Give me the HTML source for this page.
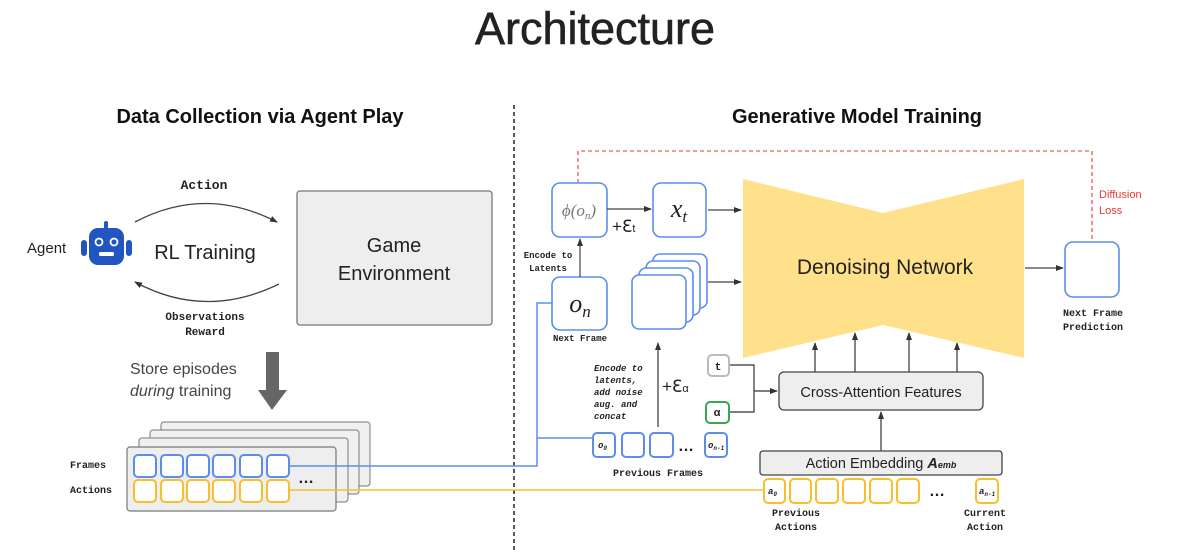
<!DOCTYPE html>
<html><head><meta charset="utf-8"><style>
html,body{margin:0;padding:0;background:#fff}
svg{display:block}
.s{font-family:"Liberation Sans",sans-serif}
.m{font-family:"Liberation Mono",monospace;font-weight:bold}
</style></head><body>
<svg width="1200" height="553" viewBox="0 0 1200 553" xmlns="http://www.w3.org/2000/svg">
<defs>
<marker id="ar" markerWidth="8" markerHeight="8" refX="7" refY="4" orient="auto" markerUnits="userSpaceOnUse"><path d="M0,1 L8,4 L0,7 z" fill="#333"/></marker>
</defs>
<text x="595" y="44" text-anchor="middle" class="s" font-size="45" fill="#222" stroke="#222" stroke-width="0.6">Architecture</text>
<line x1="514" y1="105" x2="514" y2="553" stroke="#222" stroke-width="1.5" stroke-dasharray="4,3"/>
<text x="260" y="123" text-anchor="middle" class="s" font-size="20" font-weight="bold" fill="#111">Data Collection via Agent Play</text>
<text x="857" y="123" text-anchor="middle" class="s" font-size="20" font-weight="bold" fill="#111">Generative Model Training</text>

<!-- Left -->
<text x="27" y="253" class="s" font-size="15" fill="#222">Agent</text>
<rect x="104" y="221" width="4" height="8" rx="2" fill="#2156c2"/>
<rect x="89" y="228" width="35" height="37" rx="9" fill="#2156c2"/>
<rect x="81" y="240" width="6" height="16" rx="3" fill="#2156c2"/>
<rect x="126" y="240" width="6" height="16" rx="3" fill="#2156c2"/>
<circle cx="99" cy="242" r="3.5" fill="none" stroke="#fff" stroke-width="1.8"/>
<circle cx="114" cy="242" r="3.5" fill="none" stroke="#fff" stroke-width="1.8"/>
<rect x="99" y="252" width="15" height="4" rx="1.5" fill="#fff"/>
<text x="204" y="189" text-anchor="middle" class="m" font-size="13" fill="#222">Action</text>
<path d="M135,222 Q205,185 277,222" fill="none" stroke="#444" stroke-width="1.3" marker-end="url(#ar)"/>
<text x="205" y="259" text-anchor="middle" class="s" font-size="20" fill="#222">RL Training</text>
<path d="M279,284 Q205,320 135,282" fill="none" stroke="#444" stroke-width="1.3" marker-end="url(#ar)"/>
<text x="205" y="320" text-anchor="middle" class="m" font-size="11" fill="#222">Observations</text>
<text x="205" y="335" text-anchor="middle" class="m" font-size="11" fill="#222">Reward</text>
<rect x="297" y="191" width="195" height="134" rx="3" fill="#eeeeee" stroke="#777" stroke-width="1.3"/>
<text x="394" y="252" text-anchor="middle" class="s" font-size="20" fill="#222">Game</text>
<text x="394" y="280" text-anchor="middle" class="s" font-size="20" fill="#222">Environment</text>
<text x="130" y="374" class="s" font-size="16" fill="#444">Store episodes</text>
<text x="130" y="396" class="s" font-size="16" fill="#444"><tspan font-style="italic">during</tspan> training</text>
<rect x="266" y="352" width="13" height="40" fill="#666"/>
<path d="M258,390 L287,390 L272,410 z" fill="#666"/>
<rect x="161" y="422" width="209" height="64" rx="3" fill="#f0f0f0" stroke="#777" stroke-width="1"/>
<rect x="150" y="430" width="209" height="64" rx="3" fill="#f0f0f0" stroke="#777" stroke-width="1"/>
<rect x="139" y="438" width="209" height="64" rx="3" fill="#f0f0f0" stroke="#777" stroke-width="1"/>
<rect x="127" y="447" width="209" height="64" rx="3" fill="#eeeeee" stroke="#777" stroke-width="1.2"/>
<text x="70" y="468" class="m" font-size="10" fill="#222">Frames</text>
<text x="70" y="493" class="m" font-size="10" fill="#222">Actions</text>
<g fill="#fff" stroke="#5b8def" stroke-width="2">
<rect x="134" y="455" width="22" height="22" rx="4"/><rect x="161" y="455" width="22" height="22" rx="4"/><rect x="187" y="455" width="22" height="22" rx="4"/><rect x="213" y="455" width="22" height="22" rx="4"/><rect x="240" y="455" width="22" height="22" rx="4"/><rect x="267" y="455" width="22" height="22" rx="4"/>
</g>
<g fill="#fff" stroke="#f5c02a" stroke-width="2">
<rect x="134" y="480" width="22" height="22" rx="4"/><rect x="161" y="480" width="22" height="22" rx="4"/><rect x="187" y="480" width="22" height="22" rx="4"/><rect x="213" y="480" width="22" height="22" rx="4"/><rect x="240" y="480" width="22" height="22" rx="4"/><rect x="267" y="480" width="22" height="22" rx="4"/>
</g>
<text x="298" y="483" class="s" font-size="16" font-weight="bold" fill="#222">…</text>

<!-- connectors -->
<path d="M290,466 L537,466 L537,303 L552,303 M537,438 L592,438" fill="none" stroke="#5b8def" stroke-width="1.5"/>
<path d="M290,490 L763,490" fill="none" stroke="#f5c02a" stroke-width="1.5"/>

<!-- Right -->
<path d="M578,183 L578,151 L1092,151 L1092,242" fill="none" stroke="#e53935" stroke-width="1.1" stroke-dasharray="4,3"/>
<text x="1099" y="198" class="s" font-size="11" fill="#e53935">Diffusion</text>
<text x="1099" y="214" class="s" font-size="11" fill="#e53935">Loss</text>
<polygon points="743,179 883,213 1024,179 1024,358 883,325 743,358" fill="#fee18a"/>
<text x="885" y="274" text-anchor="middle" class="s" font-size="21" fill="#222">Denoising Network</text>

<rect x="552" y="183" width="55" height="54" rx="8" fill="#fff" stroke="#5b8def" stroke-width="1.6"/>
<text x="579" y="216" text-anchor="middle" font-family="Liberation Serif,serif" font-style="italic" font-size="17" fill="#777">ϕ(o<tspan font-size="11" dy="3">n</tspan><tspan dy="-3">)</tspan></text>
<rect x="653" y="183" width="53" height="54" rx="8" fill="#fff" stroke="#5b8def" stroke-width="1.6"/>
<text x="679" y="217" text-anchor="middle" font-family="Liberation Serif,serif" font-style="italic" font-size="26" fill="#222">x<tspan font-size="17" dy="5">t</tspan></text>
<line x1="607" y1="209" x2="651" y2="209" stroke="#444" stroke-width="1.2" marker-end="url(#ar)"/>
<text x="612" y="232" class="s" font-size="17" fill="#222">+ℇ<tspan font-size="11">t</tspan></text>
<line x1="708" y1="210" x2="741" y2="210" stroke="#444" stroke-width="1.2" marker-end="url(#ar)"/>

<g fill="#fff" stroke="#5b8def" stroke-width="1.6">
<rect x="653" y="254" width="54" height="54" rx="7"/><rect x="646" y="261" width="54" height="54" rx="7"/><rect x="639" y="268" width="54" height="54" rx="7"/><rect x="632" y="275" width="54" height="54" rx="7"/>
</g>
<line x1="708" y1="282" x2="741" y2="282" stroke="#444" stroke-width="1.2" marker-end="url(#ar)"/>
<line x1="1025" y1="268" x2="1063" y2="268" stroke="#444" stroke-width="1.2" marker-end="url(#ar)"/>
<rect x="1065" y="242" width="54" height="55" rx="8" fill="#fff" stroke="#5b8def" stroke-width="1.6"/>
<text x="1093" y="316" text-anchor="middle" class="m" font-size="10" fill="#222">Next Frame</text>
<text x="1093" y="330" text-anchor="middle" class="m" font-size="10" fill="#222">Prediction</text>

<rect x="552" y="277" width="55" height="53" rx="8" fill="#fff" stroke="#5b8def" stroke-width="1.6"/>
<text x="580" y="312" text-anchor="middle" font-family="Liberation Serif,serif" font-style="italic" font-size="26" fill="#222">o<tspan font-size="17" dy="5">n</tspan></text>
<line x1="580" y1="277" x2="580" y2="239" stroke="#444" stroke-width="1.2" marker-end="url(#ar)"/>
<text x="548" y="258" text-anchor="middle" class="m" font-size="9" fill="#222">Encode to</text>
<text x="548" y="271" text-anchor="middle" class="m" font-size="9" fill="#222">Latents</text>
<text x="580" y="341" text-anchor="middle" class="m" font-size="9" fill="#222">Next Frame</text>

<line x1="658" y1="427" x2="658" y2="343" stroke="#333" stroke-width="1.2" marker-end="url(#ar)"/>
<g class="m" font-size="9" font-style="italic" fill="#222" font-weight="normal">
<text x="594" y="371">Encode to</text><text x="594" y="383">latents,</text><text x="594" y="395">add noise</text><text x="594" y="407">aug. and</text><text x="594" y="419">concat</text>
</g>
<text x="662" y="392" class="s" font-size="17" fill="#222">+ℇ<tspan font-size="11">α</tspan></text>

<rect x="708" y="355" width="21" height="21" rx="4" fill="#fff" stroke="#bbb" stroke-width="2"/>
<text x="718" y="370" text-anchor="middle" class="m" font-size="11" fill="#222">t</text>
<rect x="706" y="402" width="23" height="21" rx="4" fill="#fff" stroke="#34a853" stroke-width="2"/>
<text x="717" y="416" text-anchor="middle" class="m" font-size="11" fill="#222">α</text>
<path d="M730,365 L754,365 L754,412 L730,412" fill="none" stroke="#333" stroke-width="1.2"/>
<line x1="754" y1="391" x2="777" y2="391" stroke="#333" stroke-width="1.2" marker-end="url(#ar)"/>
<rect x="779" y="372" width="204" height="38" rx="5" fill="#eeeeee" stroke="#444" stroke-width="1.3"/>
<text x="881" y="397" text-anchor="middle" class="s" font-size="14.5" fill="#222">Cross-Attention Features</text>
<g stroke="#333" stroke-width="1.2" marker-end="url(#ar)">
<line x1="815" y1="372" x2="815" y2="343"/><line x1="855" y1="372" x2="855" y2="333"/><line x1="909" y1="372" x2="909" y2="333"/><line x1="957" y1="372" x2="957" y2="343"/>
<line x1="881" y1="451" x2="881" y2="412"/>
</g>
<rect x="760" y="451" width="242" height="24" rx="3" fill="#eeeeee" stroke="#444" stroke-width="1.3"/>
<text x="881" y="468" text-anchor="middle" class="s" font-size="14.5" fill="#222">Action Embedding <tspan font-weight="bold" font-style="italic">A<tspan font-size="9">emb</tspan></tspan></text>

<g fill="#fff" stroke="#5b8def" stroke-width="2">
<rect x="593" y="433" width="22" height="24" rx="4"/><rect x="622" y="433" width="22" height="24" rx="4"/><rect x="650" y="433" width="23" height="24" rx="4"/><rect x="705" y="433" width="22" height="24" rx="4"/>
</g>
<text x="598" y="448" class="m" font-size="9" font-style="italic" fill="#222">o<tspan font-size="6" dy="2">0</tspan></text>
<text x="708" y="448" class="m" font-size="9" font-style="italic" fill="#222">o<tspan font-size="6" dy="2">n-1</tspan></text>
<text x="678" y="451" class="s" font-size="16" font-weight="bold" fill="#222">…</text>
<text x="658" y="476" text-anchor="middle" class="m" font-size="10" fill="#222">Previous Frames</text>

<g fill="#fff" stroke="#f5c02a" stroke-width="2">
<rect x="764" y="479" width="21" height="24" rx="4"/><rect x="790" y="479" width="21" height="24" rx="4"/><rect x="816" y="479" width="22" height="24" rx="4"/><rect x="843" y="479" width="22" height="24" rx="4"/><rect x="870" y="479" width="22" height="24" rx="4"/><rect x="897" y="479" width="22" height="24" rx="4"/><rect x="976" y="479" width="22" height="24" rx="4"/>
</g>
<text x="768" y="494" class="m" font-size="9" font-style="italic" fill="#222">a<tspan font-size="6" dy="2">0</tspan></text>
<text x="979" y="494" class="m" font-size="9" font-style="italic" fill="#222">a<tspan font-size="6" dy="2">n-1</tspan></text>
<text x="929" y="496" class="s" font-size="16" font-weight="bold" fill="#222">…</text>
<text x="796" y="516" text-anchor="middle" class="m" font-size="10" fill="#222">Previous</text>
<text x="796" y="530" text-anchor="middle" class="m" font-size="10" fill="#222">Actions</text>
<text x="985" y="516" text-anchor="middle" class="m" font-size="10" fill="#222">Current</text>
<text x="985" y="530" text-anchor="middle" class="m" font-size="10" fill="#222">Action</text>
</svg>
</body></html>
